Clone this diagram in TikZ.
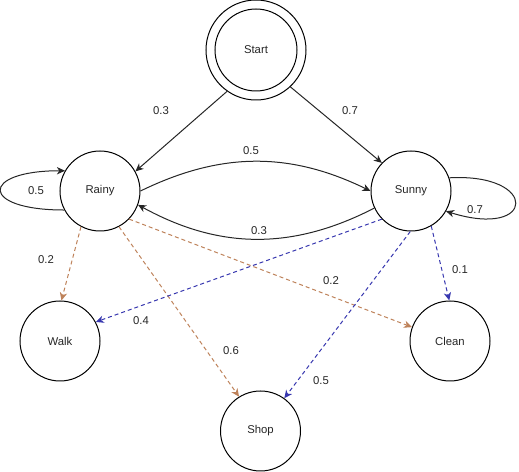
\documentclass[tikz,border=0pt]{standalone}
\usepackage{fontspec}
\setmainfont{Liberation Sans}
\usetikzlibrary{arrows.meta}
\definecolor{rainyc}{RGB}{190,130,90}
\definecolor{sunnyc}{RGB}{55,55,175}

\begin{document}
\begin{tikzpicture}[x=0.75pt,y=0.75pt,
  state/.style={circle, draw, line width=0.75pt, minimum size=60pt, inner sep=0pt, font=\fontsize{8.5}{10}\selectfont, text=black!85},
  lbl/.style={inner sep=0pt, font=\fontsize{8.5}{10}\selectfont, text=black!85},
  edge/.style={line width=0.75pt, black!85, -{Stealth[length=6pt,width=5.5pt,inset=1.8pt]}},
  emit/.style={edge, dash pattern=on 3pt off 2.25pt},
  fromrainy/.style={emit, rainyc},
  fromsunny/.style={emit, sunnyc}]
  \useasboundingbox (0,0) rectangle (519,472);
  \node[state, minimum size=75pt] (start) at (256,422) {};
  \node[state, minimum size=61.5pt] (startin) at (start) {Start};
  \node[state] (rainy) at (100,281) {Rainy};
  \node[state] (sunny) at (411,281) {Sunny};
  \node[state] (walk) at (60,131) {Walk};
  \node[state] (clean) at (450,131) {Clean};
  \node[state] (shop) at (260.5,41) {Shop};
  \draw[edge] (start.235.7) -- (rainy.29);
  \draw[edge] (start.-47.7) -- (sunny.136);
  \draw[edge] (rainy.east) to[bend left=26] (sunny.west);
  \draw[edge] (sunny.205) to[bend left=28] (rainy.-20);
  \draw[edge] (rainy.208) .. controls +(-85,0) and +(-85,0) .. (rainy.150);
  \draw[edge] (sunny.19) .. controls +(90,5) and +(90,-28) .. (sunny.-30);
  \draw[fromrainy] (rainy.242) -- (walk.88);
  \draw[fromrainy] (rainy.-62) -- (shop.122);
  \draw[fromrainy] (rainy.-44) -- (clean.160);
  \draw[fromsunny] (sunny.224) -- (walk.28);
  \draw[fromsunny] (sunny.269) -- (shop.54);
  \draw[fromsunny] (sunny.-60) -- (clean.91);
  \node[lbl] (pstartrainy) at (161,361) {0.3};
  \node[lbl] (pstartsunny) at (350,361) {0.7};
  \node[lbl] (prainysunny) at (251,321) {0.5};
  \node[lbl] (psunnyrainy) at (259,241) {0.3};
  \node[lbl] (prainyrainy) at (36,281) {0.5};
  \node[lbl] (psunnysunny) at (475,262) {0.7};
  \node[lbl] (prainywalk) at (46,212) {0.2};
  \node[lbl] (prainyclean) at (331,191) {0.2};
  \node[lbl] (psunnyclean) at (460,202) {0.1};
  \node[lbl] (psunnywalk) at (141,151) {0.4};
  \node[lbl] (prainyshop) at (231,121) {0.6};
  \node[lbl] (psunnyshop) at (321,91) {0.5};
\end{tikzpicture}
\end{document}
